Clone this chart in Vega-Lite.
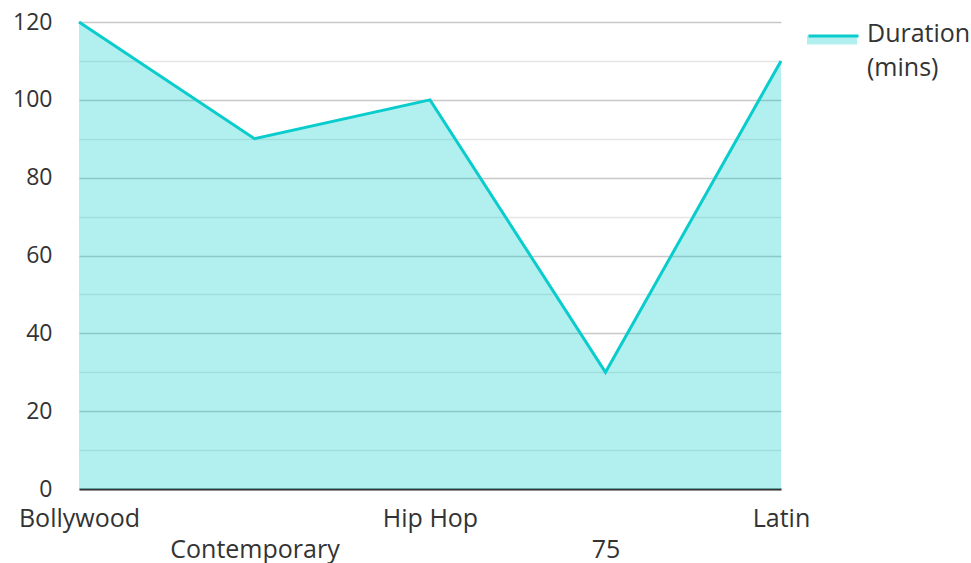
{
  "$schema": "https://vega.github.io/schema/vega-lite/v6.json",
  "width": 702,
  "height": 467,
  "autosize": {"type": "none"},
  "padding": {"left": 79, "top": 22, "right": 190, "bottom": 74},
  "background": "white",
  "config": {
    "view": {"stroke": null},
    "font": "Open Sans",
    "axis": {"labelFont": "Open Sans", "labelFontSize": 23, "labelColor": "#333333"},
    "legend": {"labelFont": "Open Sans", "labelFontSize": 25, "labelColor": "#333333"},
    "style": {"guide-label": {"lineHeight": 34}}
  },
  "data": {
    "values": [
      {"genre": "Bollywood", "duration": 120},
      {"genre": "Contemporary", "duration": 90},
      {"genre": "Hip Hop", "duration": 100},
      {"genre": "75", "duration": 30},
      {"genre": "Latin", "duration": 110}
    ]
  },
  "encoding": {
    "x": {
      "field": "genre",
      "type": "nominal",
      "sort": null,
      "scale": {"type": "point", "padding": 0},
      "axis": {
        "title": null,
        "labelAngle": 0,
        "ticks": false,
        "domainColor": "#333333",
        "domainWidth": 2,
        "labelFontSize": 25,
        "labelPadding": 17,
        "labelOverlap": false,
        "labelBound": false,
        "labelLineHeight": 31,
        "labelExpr": "indexof(['Contemporary','75'], datum.value) >= 0 ? ['', datum.label] : datum.label"
      }
    },
    "y": {
      "field": "duration",
      "type": "quantitative",
      "scale": {"domain": [0, 120], "nice": false},
      "axis": {
        "title": null,
        "domain": false,
        "ticks": false,
        "values": [0, 10, 20, 30, 40, 50, 60, 70, 80, 90, 100, 110, 120],
        "labelExpr": "datum.value % 20 === 0 ? datum.label : ''",
        "labelPadding": 27,
        "grid": true,
        "gridColor": {"condition": {"test": "datum.value % 20 === 0", "value": "#c8c8c8"}, "value": "#e6e6e6"},
        "gridWidth": 1.5
      }
    }
  },
  "layer": [
    {
      "mark": {"type": "area", "fillOpacity": 0.3, "opacity": 1},
      "encoding": {
        "fill": {
          "datum": "Duration (mins)",
          "scale": {"range": ["#00cccc"]},
          "legend": {
            "orient": "none",
            "legendX": 728,
            "legendY": -13,
            "padding": 0,
            "title": null,
            "symbolType": "M-1,0.06H1V0.42H-1Z",
            "symbolSize": 2500,
            "symbolOpacity": 0.3,
            "symbolStrokeWidth": 0,
            "labelOffset": 10,
            "labelExpr": "['Duration', '(mins)']"
          }
        }
      }
    },
    {
      "mark": {"type": "line", "strokeWidth": 3},
      "encoding": {
        "stroke": {
          "datum": "line",
          "scale": {"range": ["#0bcccc"]},
          "legend": {
            "orient": "none",
            "legendX": 728,
            "legendY": -13,
            "padding": 0,
            "title": null,
            "symbolType": "M-1,0.02H1",
            "symbolSize": 2500,
            "symbolStrokeWidth": 3,
            "labelOffset": 10,
            "labelExpr": "''"
          }
        }
      }
    }
  ]
}
